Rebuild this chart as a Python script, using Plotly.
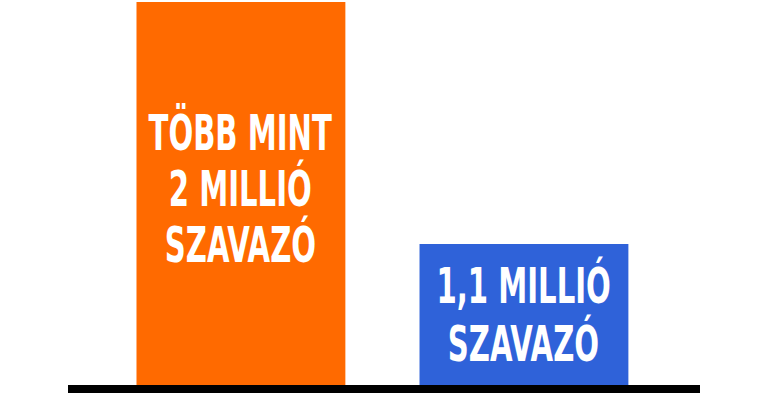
import plotly.graph_objects as go

# két oszlop: a magasság a képről leolvasott relatív érték
oszlopok = [0, 1]
magassag = [100, 36.8]
szinek = ["#FF6A00", "#2F62D9"]
sorok = [["TÖBB MINT", "2 MILLIÓ", "SZAVAZÓ"], ["1,1 MILLIÓ", "SZAVAZÓ"]]
sor_pixel = [[131, 187, 243], [284, 342]]

traco = go.Bar(
    x=oszlopok,
    y=magassag,
    width=0.738,
    marker=dict(color=szinek, line=dict(width=0)),
    hoverinfo="skip",
)

layout = go.Layout(
    width=768,
    height=403,
    margin=dict(l=68, r=68, t=0, b=18),
    paper_bgcolor="white",
    plot_bgcolor="white",
    showlegend=False,
)
fig = go.Figure(data=[traco], layout=layout)

fig.update_xaxes(range=[-0.611, 1.622], visible=False, fixedrange=True)
fig.update_yaxes(range=[0, 100 * 385 / 383], visible=False, fixedrange=True)

# alapvonal
fig.add_shape(type="rect", xref="paper", yref="paper", x0=0, x1=1,
              y0=-8 / 385, y1=0, fillcolor="black", line=dict(width=0))

for x, szovegek, pixelek in zip(oszlopok, sorok, sor_pixel):
    for szoveg, py in zip(szovegek, pixelek):
        fig.add_annotation(
            x=x, y=(385 - py) / 385, yref="paper", text=szoveg, showarrow=False,
            font=dict(family="DejaVu Sans Condensed, sans-serif",
                      size=40, color="white", weight=700),
            align="center", yanchor="middle", borderpad=0,
        )

# keskeny, magas betűk (a plakátbetű utánzása)
utoszkript = """
document.body.style.margin='0';
document.querySelectorAll('.annotation-text').forEach(function(t){
  t.style.transformBox='fill-box';
  t.style.transformOrigin='center';
  t.style.transform='scale(0.81,1.26)';
});
"""

fig.write_html("out.html", config={"displayModeBar": False, "staticPlot": True},
               post_script=utoszkript)
